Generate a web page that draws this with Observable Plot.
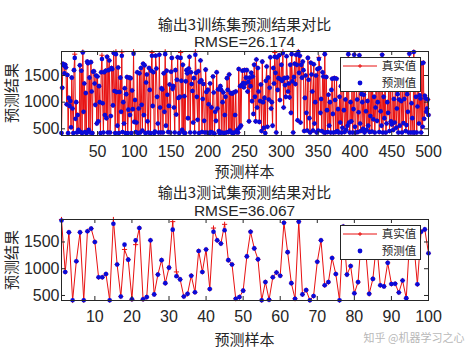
<!DOCTYPE html>
<html><head><meta charset="utf-8">
<script src="https://cdn.jsdelivr.net/npm/d3@7"></script>
<script src="https://cdn.jsdelivr.net/npm/@observablehq/plot@0.6"></script>
<style>
body{margin:0;background:#fff;}
#fig{position:relative;width:474px;height:355px;overflow:hidden;background:#fff;font-family:"Liberation Sans",Arial,sans-serif;color:#262626;}
.abs{position:absolute;white-space:nowrap;line-height:1;}
.c{transform:translate(-50%,-50%);}
.cjk{font-family:"Noto Sans CJK SC",sans-serif;}
.svgwrap{position:absolute;left:0;}
.legend{position:absolute;background:#fff;border:1px solid #262626;box-sizing:border-box;}
</style></head><body><div id="fig"></div>
<script>
// ---- data ----
const trainTrue = [
420,1270,1720,1690,1540,1700,1650,960,1510,420,
1080,930,1020,530,1460,880,420,1600,1900,690,
1000,430,760,480,450,1690,440,1590,420,1940,
820,1350,440,1170,420,1760,1730,480,1460,430,
1750,1200,420,1570,1580,1350,950,1500,600,1480,
640,1300,1000,420,1560,1880,980,430,1560,760,
1590,700,1850,430,1600,1780,430,740,1640,1620,
940,1920,1210,420,1945,1190,560,1650,420,1190,
1460,820,1940,440,1000,600,1260,420,1150,1470,
420,860,1460,760,1450,420,1220,870,1945,630,
1040,440,620,1560,420,880,1540,430,1640,950,
470,1720,760,1690,420,1370,1520,640,430,1640,
1230,420,1590,1930,930,1560,420,450,1870,1630,
1100,600,430,1890,900,430,1260,1240,430,1540,
820,1945,560,1590,1140,440,930,1330,430,1570,
1830,1250,1300,900,430,1600,770,1420,1840,1080,
420,1100,1930,1400,480,1700,430,1110,420,1390,
1600,1540,700,1630,1850,430,1560,1340,1210,620,
1450,430,1945,1550,1100,670,1580,420,1380,1780,
1410,440,1060,1340,650,430,1610,1190,430,1230,
960,420,1350,440,900,430,1480,1180,410,820,
650,1560,880,1240,460,420,1300,1230,430,1000,
1180,420,760,1100,430,1450,1230,440,1520,470,
1170,430,1160,420,1180,430,760,1200,440,480,
430,1620,520,1300,560,1320,1590,1360,1280,1600,
1350,1460,1600,1200,1380,640,1460,1300,1550,1020,
1480,780,1700,1100,640,1800,900,1640,1200,630,
1020,1330,460,1760,1000,520,1080,420,1400,1670,
540,1460,1050,1270,1840,880,1000,560,1640,1350,
1930,1550,430,1840,1230,1450,1880,1040,1430,1700,
1400,1950,900,1450,1320,1100,1860,1460,1200,1350,
1090,1700,800,1900,1390,430,1470,1720,1340,1890,
1700,660,1950,1550,1870,620,1700,1460,1760,1600,
460,1080,1500,800,470,1830,1420,700,430,1740,
1520,1200,470,1710,600,1000,1500,430,1620,470,
1840,1640,800,1060,460,1560,1480,430,1900,430,
1470,850,440,1140,560,1000,430,1230,1440,780,
430,1450,1040,440,1440,460,870,430,1100,620,
1300,430,520,1650,850,440,1050,480,1340,560,
1900,620,430,1000,640,1350,430,870,1890,540,
430,1240,1050,440,810,1880,600,460,1150,1000,
500,1140,430,1300,830,480,1020,560,1350,440,
740,1700,450,1330,680,1100,430,900,1720,650,
1000,1650,440,1250,830,560,1890,430,1100,700,
1640,430,600,1000,800,1430,460,1270,640,580,
1710,480,1060,620,1500,520,880,1150,430,1050,
560,1480,1020,430,1300,610,1060,1700,460,570,
1150,820,430,1910,1400,430,980,700,430,1940,
430,1730,1100,430,920,1700,600,1130,1070,430,
1730,540,1740,690,1120,1070,820,880,1050,760
];
const trainPred = [
420,1270,1720,1690,1540,1700,1650,960,1510,420,
1080,930,1020,530,1460,880,420,1600,1830,690,
1000,430,760,480,450,1690,440,1590,420,1930,
820,1350,440,1170,420,1760,1730,480,1460,430,
1750,1200,420,1570,1580,1350,950,1500,600,1480,
640,1300,1000,420,1560,1810,980,430,1560,760,
1590,700,1850,430,1600,1780,430,740,1640,1620,
940,1920,1210,420,1900,1190,560,1650,420,1190,
1460,820,1870,440,1000,600,1260,420,1150,1470,
420,860,1460,760,1450,420,1220,870,1910,630,
1040,440,620,1560,420,880,1540,430,1640,950,
470,1720,760,1690,420,1370,1520,640,430,1640,
1230,420,1590,1870,930,1560,420,450,1870,1630,
1100,600,430,1890,900,430,1260,1240,430,1540,
820,1900,560,1590,1140,440,930,1330,430,1570,
1830,1250,1300,900,430,1600,770,1420,1840,1080,
420,1100,1830,1400,480,1700,430,1110,420,1390,
1600,1540,700,1630,1850,430,1560,1340,1210,620,
1450,430,1890,1550,1100,670,1580,420,1380,1780,
1410,440,1060,1340,650,430,1610,1190,430,1230,
960,420,1350,440,900,430,1480,1180,410,820,
650,1560,880,1240,460,420,1300,1230,430,1000,
1180,420,760,1100,430,1450,1230,440,1520,470,
1170,430,1160,420,1180,430,760,1200,440,480,
430,1620,520,1300,560,1320,1590,1360,1280,1600,
1350,1460,1600,1200,1380,640,1460,1300,1550,1020,
1480,780,1700,1100,640,1800,900,1640,1200,630,
1020,1330,460,1760,1000,520,1080,420,1400,1670,
540,1460,1050,1270,1840,880,1000,560,1640,1350,
1850,1550,430,1840,1230,1450,1880,1040,1430,1700,
1400,1920,900,1450,1320,1100,1860,1460,1200,1350,
1090,1700,800,1900,1390,430,1470,1720,1340,1890,
1700,660,1940,1550,1870,620,1700,1460,1760,1600,
460,1080,1500,800,470,1830,1420,700,430,1740,
1520,1200,470,1710,600,1000,1500,430,1620,470,
1810,1640,800,1060,460,1560,1480,430,1900,430,
1470,850,440,1140,560,1000,430,1230,1440,780,
430,1450,1040,440,1440,460,870,430,1100,620,
1300,430,520,1650,850,440,1050,480,1340,560,
1900,620,430,1000,640,1350,430,870,1890,540,
430,1240,1050,440,810,1880,600,460,1150,1000,
500,1140,430,1300,830,480,1020,560,1350,440,
740,1700,450,1330,680,1100,430,900,1720,650,
1000,1650,440,1250,830,560,1890,430,1100,700,
1640,430,600,1000,800,1430,460,1270,640,580,
1710,480,1060,620,1500,520,880,1150,430,1050,
560,1480,1020,430,1300,610,1060,1700,460,570,
1150,820,430,1910,1400,430,980,700,430,1940,
430,1730,1100,430,920,1700,600,1130,1070,430,
1730,540,1740,690,1120,1070,820,880,1050,760
];
const testTrue = [
1920,940,1680,406,1140,1680,410,1700,1750,1500,
840,840,900,410,1920,1080,480,1360,1170,430,
1450,1760,430,470,1530,520,890,1160,730,1020,
1880,940,800,480,530,870,560,1330,940,1360,
620,1760,1530,1470,1830,1160,1080,440,470,590,
1230,1690,1380,1175,410,750,420,840,930,870,
1860,1310,730,440,1880,520,600,410,490,1130,
1530,690,750,1200,900,410,1790,890,1050,540,
750,1700,1400,530,810,1500,690,670,1110,715,
720,555,780,450,1650,1500,710,1690,1735,1290
];
const testPred = [
1900,940,1680,410,1140,1680,410,1700,1750,1500,
840,840,900,410,1840,1080,480,1450,1170,430,
1530,1760,430,470,1530,520,890,1160,730,1020,
1730,860,800,480,530,870,560,1330,940,1360,
620,1690,1530,1470,1720,1160,1080,440,470,590,
1230,1690,1380,1175,410,750,420,840,930,870,
1860,1310,730,440,1880,520,600,410,490,1130,
1530,690,750,1200,900,410,1790,890,1050,540,
750,1700,1400,530,810,1500,690,670,1110,715,
720,555,780,450,1650,1500,710,1690,1735,1290
];
const yTicks = [500, 1000, 1500];
const trainXTicks = [50,100,150,200,250,300,350,400,450,500];
const testXTicks = [10,20,30,40,50,60,70,80,90,100];
const trainTitle = "输出3训练集预测结果对比";
const trainRMSE = "RMSE=26.174";
const testTitle = "输出3测试集预测结果对比";
const testRMSE = "RMSE=36.067";
const xLabel = "预测样本";
const yLabel = "预测结果";
const legendLabels = ["真实值", "预测值"];
const watermark = "知乎 @机器学习之心";

// ---- drawing ----
const RED = "#e81010", BLUE = "#0a0ad8", AX = "#262626";
const W = 474, ML = 61, MR = 46;
function panel({truth, pred, xDomain, yDomain, xTicks, height, marginTop, marginBottom}) {
  const rows = truth.map((v, i) => ({i: i + 1, t: v, p: pred[i]}));
  const fh = height - marginTop - marginBottom;
  const fw = W - ML - MR;
  return Plot.plot({
    width: W, height, marginLeft: ML, marginRight: MR, marginTop, marginBottom,
    style: {fontSize: "16px", fontFamily: "'Liberation Sans', Arial, sans-serif", color: AX, background: "transparent", overflow: "visible"},
    x: {domain: xDomain},
    y: {domain: yDomain},
    marks: [
      Plot.line(rows, {x: "i", y: "t", stroke: RED, strokeWidth: 1}),
      Plot.dot(rows, {x: "i", y: "t", symbol: "plus", r: 1.8, stroke: RED, strokeWidth: 1}),
      Plot.dot(rows, {x: "i", y: "p", r: 2.3, fill: BLUE, stroke: "none"}),
      Plot.tickX(xTicks, {x: d => d, insetTop: fh - 4, stroke: AX}),
      Plot.tickX(xTicks, {x: d => d, insetBottom: fh - 4, stroke: AX}),
      Plot.tickY(yTicks, {y: d => d, insetRight: fw - 4, stroke: AX}),
      Plot.tickY(yTicks, {y: d => d, insetLeft: fw - 4, stroke: AX}),
      Plot.axisX(xTicks, {tickSize: 0, tickPadding: 10, label: null, fill: AX, tickFormat: d => String(d)}),
      Plot.axisY(yTicks, {tickSize: 0, tickPadding: 2, label: null, fill: AX, tickFormat: d => String(d)}),
      Plot.frame({stroke: AX})
    ]
  });
}
const fig = document.getElementById("fig");
function addText(txt, x, y, cls, style) {
  const d = document.createElement("div");
  d.className = "abs c " + (cls || "");
  d.textContent = txt;
  d.style.left = x + "px"; d.style.top = y + "px";
  Object.assign(d.style, style || {});
  fig.appendChild(d);
  return d;
}
function addPanel(top, opts, titleY, rmseY, xlabY, frameTop, frameBottom, title, rmse) {
  const wrap = document.createElement("div");
  wrap.className = "svgwrap"; wrap.style.top = top + "px";
  wrap.appendChild(panel(opts));
  fig.appendChild(wrap);
  const cx = (ML + W - MR) / 2;
  addText(title, cx, titleY, "cjk", {fontSize: "15px"});
  addText(rmse, cx, rmseY, "", {fontSize: "15.5px"});
  addText(xLabel, cx, xlabY, "cjk", {fontSize: "15px"});
  addText(yLabel, 10, (frameTop + frameBottom) / 2, "cjk", {fontSize: "15px", transform: "translate(-50%,-50%) rotate(-90deg)"});
  // legend
  const lg = document.createElement("div");
  lg.className = "legend";
  lg.style.left = "340px"; lg.style.top = (frameTop + 6) + "px";
  lg.style.width = "81px"; lg.style.height = "35px";
  lg.innerHTML = `<svg width="81" height="35" style="position:absolute;left:-1px;top:-1px">
    <line x1="3" x2="37" y1="9" y2="9" stroke="${RED}" stroke-width="1"/>
    <path d="M20,7v4M18,9h4" stroke="${RED}" stroke-width="1"/>
    <circle cx="20" cy="26" r="2.4" fill="${BLUE}"/></svg>`;
  fig.appendChild(lg);
  addText(legendLabels[0], 399, frameTop + 6 + 8.5, "cjk", {fontSize: "11.5px"});
  addText(legendLabels[1], 399, frameTop + 6 + 25.5, "cjk", {fontSize: "11.5px"});
}
addPanel(0, {truth: trainTrue, pred: trainPred, xDomain: [1, 500], yDomain: [375, 1950], xTicks: trainXTicks, height: 180, marginTop: 51, marginBottom: 45},
  22.5, 41.5, 170, 51, 135, trainTitle, trainRMSE);
addPanel(180, {truth: testTrue, pred: testPred, xDomain: [1, 100], yDomain: [406, 1920], xTicks: testXTicks, height: 175, marginTop: 39, marginBottom: 55},
  191, 211, 338, 219, 300, testTitle, testRMSE);
addText(watermark, 414, 337, "cjk", {fontSize: "11px", color: "#b8b8b8"});
</script></body></html>
